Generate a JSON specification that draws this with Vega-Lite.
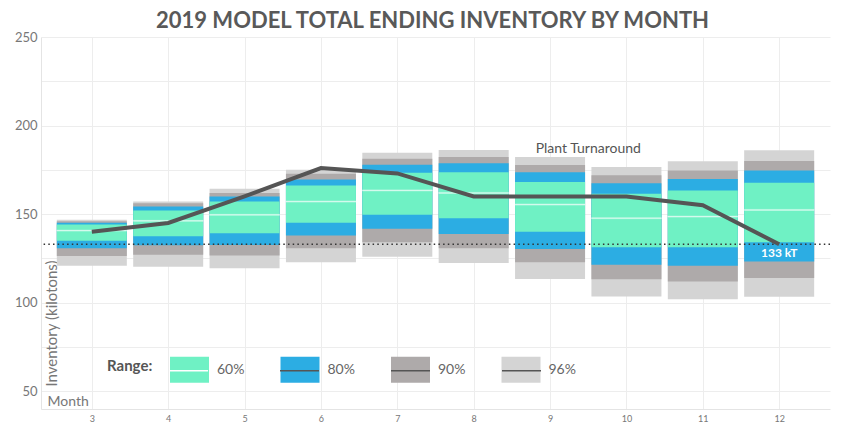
{
  "$schema": "https://vega.github.io/schema/vega-lite/v6.json",
  "width": 789,
  "height": 372,
  "autosize": {"type": "none"},
  "padding": {"left": 41, "top": 37, "right": 34, "bottom": 23},
  "background": "white",
  "title": {
    "text": "2019 MODEL TOTAL ENDING INVENTORY BY MONTH",
    "font": "Lato",
    "fontSize": 22,
    "fontWeight": "bold",
    "color": "#595959",
    "anchor": "middle",
    "frame": "group",
    "baseline": "bottom",
    "offset": 2,
    "dx": -3,
    "dy": 26
  },
  "config": {
    "view": {"stroke": null},
    "font": "Lato"
  },
  "datasets": {
    "bands": [
      {"month": 3, "range": "96%", "lo": 120.9, "hi": 146.8},
      {"month": 4, "range": "96%", "lo": 120.3, "hi": 157.1},
      {"month": 5, "range": "96%", "lo": 119.4, "hi": 164.3},
      {"month": 6, "range": "96%", "lo": 122.8, "hi": 175.1},
      {"month": 7, "range": "96%", "lo": 126.0, "hi": 184.7},
      {"month": 8, "range": "96%", "lo": 122.4, "hi": 186.2},
      {"month": 9, "range": "96%", "lo": 113.4, "hi": 182.2},
      {"month": 10, "range": "96%", "lo": 103.5, "hi": 176.6},
      {"month": 11, "range": "96%", "lo": 102.0, "hi": 179.8},
      {"month": 12, "range": "96%", "lo": 103.3, "hi": 186.0},
      {"month": 3, "range": "90%", "lo": 126.4, "hi": 146.0},
      {"month": 4, "range": "90%", "lo": 127.1, "hi": 156.2},
      {"month": 5, "range": "90%", "lo": 126.6, "hi": 162.0},
      {"month": 6, "range": "90%", "lo": 130.7, "hi": 172.8},
      {"month": 7, "range": "90%", "lo": 134.1, "hi": 181.3},
      {"month": 8, "range": "90%", "lo": 130.7, "hi": 182.2},
      {"month": 9, "range": "90%", "lo": 122.8, "hi": 177.7},
      {"month": 10, "range": "90%", "lo": 113.2, "hi": 171.9},
      {"month": 11, "range": "90%", "lo": 112.0, "hi": 174.7},
      {"month": 12, "range": "90%", "lo": 113.9, "hi": 180.0},
      {"month": 3, "range": "80%", "lo": 130.7, "hi": 145.2},
      {"month": 4, "range": "80%", "lo": 132.4, "hi": 154.3},
      {"month": 5, "range": "80%", "lo": 132.6, "hi": 160.0},
      {"month": 6, "range": "80%", "lo": 137.9, "hi": 169.6},
      {"month": 7, "range": "80%", "lo": 141.7, "hi": 177.9},
      {"month": 8, "range": "80%", "lo": 138.8, "hi": 178.8},
      {"month": 9, "range": "80%", "lo": 130.3, "hi": 173.7},
      {"month": 10, "range": "80%", "lo": 121.5, "hi": 167.5},
      {"month": 11, "range": "80%", "lo": 120.9, "hi": 169.8},
      {"month": 12, "range": "80%", "lo": 123.2, "hi": 174.7},
      {"month": 3, "range": "60%", "lo": 135.0, "hi": 144.1},
      {"month": 4, "range": "60%", "lo": 137.5, "hi": 152.0},
      {"month": 5, "range": "60%", "lo": 139.2, "hi": 157.1},
      {"month": 6, "range": "60%", "lo": 145.2, "hi": 166.2},
      {"month": 7, "range": "60%", "lo": 149.6, "hi": 173.4},
      {"month": 8, "range": "60%", "lo": 147.7, "hi": 173.7},
      {"month": 9, "range": "60%", "lo": 140.1, "hi": 168.1},
      {"month": 10, "range": "60%", "lo": 131.3, "hi": 161.5},
      {"month": 11, "range": "60%", "lo": 131.3, "hi": 163.4},
      {"month": 12, "range": "60%", "lo": 134.1, "hi": 167.7}
    ],
    "medians": [
      {"month": 3, "med": 140.7, "series": "L60"},
      {"month": 4, "med": 146.2, "series": "L60"},
      {"month": 5, "med": 149.6, "series": "L60"},
      {"month": 6, "med": 157.1, "series": "L60"},
      {"month": 7, "med": 163.4, "series": "L60"},
      {"month": 8, "med": 162.0, "series": "L60"},
      {"month": 9, "med": 155.4, "series": "L60"},
      {"month": 10, "med": 147.7, "series": "L60"},
      {"month": 11, "med": 148.6, "series": "L60"},
      {"month": 12, "med": 152.4, "series": "L60"}
    ],
    "forecast": [
      {"month": 3, "inventory": 140},
      {"month": 4, "inventory": 145},
      {"month": 5, "inventory": 160},
      {"month": 6, "inventory": 176},
      {"month": 7, "inventory": 173},
      {"month": 8, "inventory": 160},
      {"month": 9, "inventory": 160},
      {"month": 10, "inventory": 160},
      {"month": 11, "inventory": 155},
      {"month": 12, "inventory": 133}
    ],
    "reference": [{"level": 133}],
    "notes": [{"month": 9.5, "value": 187, "label": "Plant Turnaround"}],
    "endLabel": [{"month": 12, "value": 133, "label": "133 kT"}]
  },
  "layer": [
    {
      "data": {"name": "bands"},
      "mark": {"type": "bar", "width": 70},
      "encoding": {
        "x": {
          "field": "month",
          "type": "quantitative",
          "scale": {"domain": [2.4, 12.6], "nice": false, "zero": false},
          "axis": {
            "values": [3, 4, 5, 6, 7, 8, 9, 10, 11, 12],
            "format": "d",
            "title": "Month",
            "titleX": 6,
            "titleY": -8,
            "titleAlign": "left",
            "titleBaseline": "middle",
            "titleFontSize": 14,
            "titleFontWeight": "normal",
            "titleColor": "#777777",
            "labelFontSize": 9,
            "labelColor": "#777777",
            "labelPadding": 5,
            "ticks": false,
            "domainColor": "#E4E4E4",
            "grid": true,
            "gridColor": "#EDEDED"
          }
        },
        "y": {
          "field": "lo",
          "type": "quantitative",
          "scale": {"domain": [40, 250], "nice": false, "zero": false},
          "axis": {
            "values": [50, 75, 100, 125, 150, 175, 200, 225, 250],
            "labelExpr": "datum.value % 50 === 0 ? datum.label : ''",
            "title": "Inventory (kilotons)",
            "titleX": 10,
            "titleY": 349,
            "titleAlign": "left",
            "titleBaseline": "middle",
            "titleFontSize": 15,
            "titleFontWeight": "normal",
            "titleColor": "#777777",
            "labelFontSize": 13,
            "labelColor": "#777777",
            "labelPadding": 4,
            "ticks": false,
            "domainColor": "#E4E4E4",
            "grid": true,
            "gridColor": "#EDEDED"
          }
        },
        "y2": {"field": "hi"},
        "color": {
          "field": "range",
          "type": "nominal",
          "scale": {
            "domain": ["60%", "80%", "90%", "96%"],
            "range": ["#6FF1C4", "#2CADE3", "#AEAAAA", "#D4D4D4"]
          },
          "legend": {
            "orient": "none",
            "legendX": 66,
            "legendY": 313,
            "direction": "horizontal",
            "title": "Range:",
            "titleOrient": "left",
            "titleFontSize": 15,
            "titleFontWeight": "bold",
            "titleColor": "#555555",
            "titlePadding": 17,
            "titleBaseline": "middle",
            "titleAnchor": "middle",
            "symbolType": "M-1,-0.6667H1V0.6667H-1Z",
            "symbolSize": 1521,
            "symbolStrokeWidth": 0,
            "symbolOpacity": 1,
            "labelFontSize": 14,
            "labelColor": "#666666",
            "labelOffset": 8,
            "columnPadding": 35.5,
            "padding": 0
          }
        }
      }
    },
    {
      "data": {"name": "medians"},
      "mark": {"type": "tick", "orient": "horizontal", "size": 70, "thickness": 1, "color": "#FFFFFF", "strokeWidth": 0.5},
      "encoding": {
        "x": {"field": "month", "type": "quantitative"},
        "y": {"field": "med", "type": "quantitative"},
        "stroke": {
          "field": "series",
          "type": "nominal",
          "scale": {
            "domain": ["L60", "L80", "L90", "L96"],
            "range": ["#FFFFFF", "#555555", "#555555", "#555555"]
          },
          "legend": {
            "orient": "none",
            "legendX": 127,
            "legendY": 313,
            "direction": "horizontal",
            "title": null,
            "symbolType": "M-1,0H1",
            "symbolSize": 1521,
            "symbolStrokeWidth": 1.5,
            "symbolFillColor": "transparent",
            "symbolOpacity": 1,
            "labelExpr": "''",
            "labelFontSize": 14,
            "labelOffset": 8,
            "columnPadding": 60,
            "padding": 0
          }
        }
      }
    },
    {
      "data": {"name": "reference"},
      "mark": {"type": "rule", "color": "#333333", "strokeWidth": 1.5, "strokeDash": [1.5, 3.2]},
      "encoding": {"y": {"field": "level", "type": "quantitative"}}
    },
    {
      "data": {"name": "forecast"},
      "mark": {"type": "line", "color": "#555555", "strokeWidth": 4},
      "encoding": {
        "x": {"field": "month", "type": "quantitative"},
        "y": {"field": "inventory", "type": "quantitative"}
      }
    },
    {
      "data": {"name": "notes"},
      "mark": {"type": "text", "font": "Lato", "fontSize": 14, "color": "#555555", "align": "center", "baseline": "middle"},
      "encoding": {
        "x": {"field": "month", "type": "quantitative"},
        "y": {"field": "value", "type": "quantitative"},
        "text": {"field": "label"}
      }
    },
    {
      "data": {"name": "endLabel"},
      "mark": {"type": "text", "font": "Lato", "fontSize": 12, "fontWeight": "bold", "color": "#FFFFFF", "align": "center", "baseline": "middle", "dy": 8.5},
      "encoding": {
        "x": {"field": "month", "type": "quantitative"},
        "y": {"field": "value", "type": "quantitative"},
        "text": {"field": "label"}
      }
    }
  ]
}
